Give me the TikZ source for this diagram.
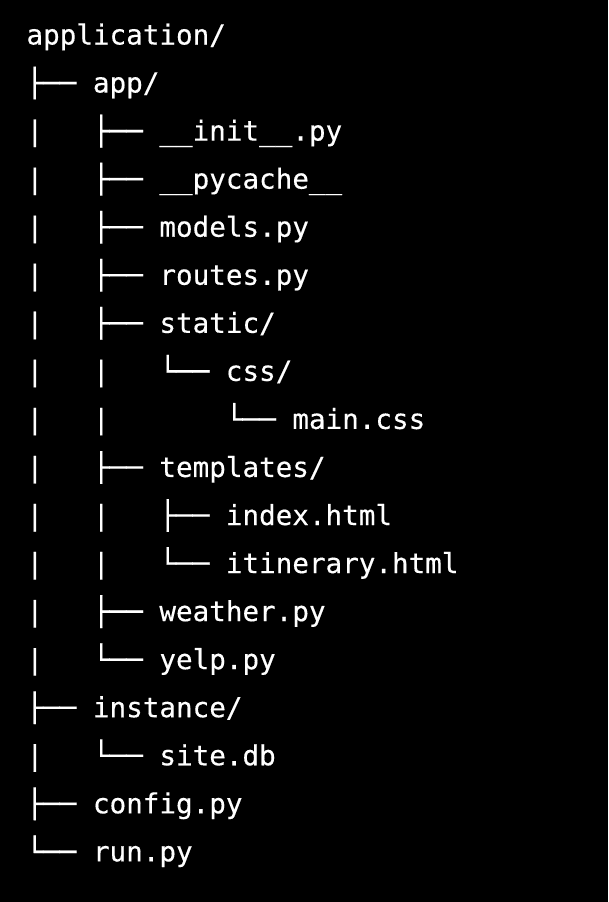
\documentclass[tikz,border=0pt]{standalone}
\usepackage{fontspec}
\newfontfamily\treemono[FakeBold=0.35]{DejaVu Sans Mono}
\begin{document}
\begin{tikzpicture}[x=1pt,y=1pt,
  treeline/.style={anchor=base west,inner sep=0pt,outer sep=0pt,text=white,
    font=\treemono\fontsize{27.6}{27.6}\selectfont}]
\fill[black] (0,0) rectangle (608,-902);
\useasboundingbox (0,0) rectangle (608,-902);
\def\lh{48.05}
\node[treeline] (l1)  at (26.5,-44.5-0*\lh)  {application/};
\node[treeline] (l2)  at (26.5,-44.5-1*\lh)  {├──~app/};
\node[treeline] (l3)  at (26.5,-44.5-2*\lh)  {|~~~├──~\_\_init\_\_.py};
\node[treeline] (l4)  at (26.5,-44.5-3*\lh)  {|~~~├──~\_\_pycache\_\_};
\node[treeline] (l5)  at (26.5,-44.5-4*\lh)  {|~~~├──~models.py};
\node[treeline] (l6)  at (26.5,-44.5-5*\lh)  {|~~~├──~routes.py};
\node[treeline] (l7)  at (26.5,-44.5-6*\lh)  {|~~~├──~static/};
\node[treeline] (l8)  at (26.5,-44.5-7*\lh)  {|~~~|~~~└──~css/};
\node[treeline] (l9)  at (26.5,-44.5-8*\lh)  {|~~~|~~~~~~~└──~main.css};
\node[treeline] (l10) at (26.5,-44.5-9*\lh)  {|~~~├──~templates/};
\node[treeline] (l11) at (26.5,-44.5-10*\lh) {|~~~|~~~├──~index.html};
\node[treeline] (l12) at (26.5,-44.5-11*\lh) {|~~~|~~~└──~itinerary.html};
\node[treeline] (l13) at (26.5,-44.5-12*\lh) {|~~~├──~weather.py};
\node[treeline] (l14) at (26.5,-44.5-13*\lh) {|~~~└──~yelp.py};
\node[treeline] (l15) at (26.5,-44.5-14*\lh) {├──~instance/};
\node[treeline] (l16) at (26.5,-44.5-15*\lh) {|~~~└──~site.db};
\node[treeline] (l17) at (26.5,-44.5-16*\lh) {├──~config.py};
\node[treeline] (l18) at (26.5,-44.5-17*\lh) {└──~run.py};
\end{tikzpicture}
\end{document}
